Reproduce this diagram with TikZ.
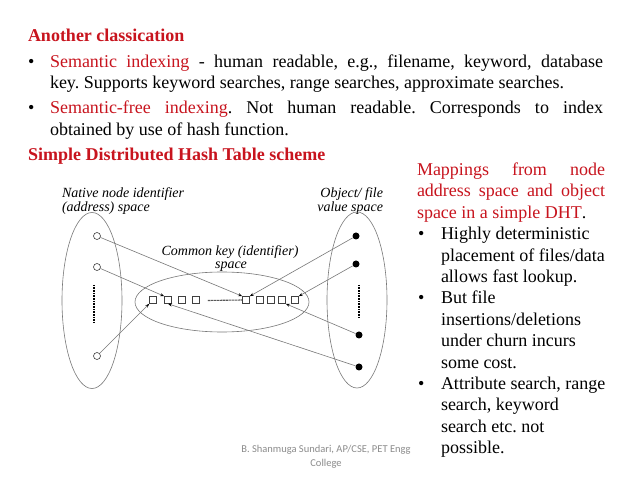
\documentclass[tikz,border=0pt]{standalone}
\usepackage{fontspec}
\setmainfont{Liberation Serif}
\newfontfamily\footfont{Carlito}
\usetikzlibrary{arrows.meta,shapes.geometric}
\definecolor{slidered}{RGB}{200,20,30}
\definecolor{footgray}{RGB}{140,140,140}
\definecolor{linegray}{RGB}{120,120,120}
\frenchspacing
\begin{document}
\begin{tikzpicture}[x=1pt,y=-1pt,
  body/.style={anchor=base west, inner sep=0pt, outer sep=0pt, font=\fontsize{18}{21}\selectfont},
  hd/.style={body, font=\fontsize{18}{21}\selectfont\bfseries, text=slidered},
  lbl/.style={inner sep=0pt, outer sep=0pt, font=\fontsize{14}{14}\selectfont\itshape},
  hollowdot/.style={circle, draw=black!75, line width=0.6pt, fill=white, minimum size=7pt, inner sep=0pt},
  soliddot/.style={circle, fill=black, minimum size=7pt, inner sep=0pt},
  keybox/.style={rectangle, draw=black!75, line width=0.6pt, minimum size=7pt, inner sep=0pt},
  spaceell/.style={ellipse, draw=linegray, line width=0.6pt, inner sep=0pt},
  mapline/.style={draw=linegray, line width=0.6pt, -{Stealth[length=4pt,width=3pt,color=black]}},
  dotcol/.style={line width=1.4pt, dash pattern=on 0.8pt off 0.8pt},
  foot/.style={inner sep=0pt, font=\footfont\fontsize{10.5}{12}\selectfont, text=footgray},
]
\useasboundingbox[fill=white] (0,0) rectangle (638,478);

% ---- top text ----
\node[hd] (t1) at (28,41.5) {Another classication};
\node[body] (bu1) at (28,67.5) {•};
\node[body] (l1) at (50,67.5) {\makebox[553pt][s]{\textcolor{slidered}{Semantic indexing} - human readable, e.g., filename, keyword, database}};
\node[body] (l2) at (50,88.5) {key. Supports keyword searches, range searches, approximate searches.};
\node[body] (bu2) at (28,113.5) {•};
\node[body] (l3) at (50,113.5) {\makebox[553pt][s]{\textcolor{slidered}{Semantic-free indexing}. Not human readable. Corresponds to index}};
\node[body] (l4) at (50,135.5) {obtained by use of hash function.};
\node[hd] (t2) at (28,160.5) {Simple Distributed Hash Table scheme};

% ---- right column ----
\node[body, text=slidered] (r0) at (417,175.5) {\makebox[188pt][s]{Mappings from node}};
\node[body, text=slidered] (r1) at (417,196.9) {\makebox[188pt][s]{address space and object}};
\node[body] (r2) at (417,218.3) {\textcolor{slidered}{space in a simple DHT}.};
\node[body] (rb1) at (418,239.7) {•};
\node[body] (r3) at (441,239.7) {Highly deterministic};
\node[body] (r4) at (441,261.1) {placement of files/data};
\node[body] (r5) at (441,282.5) {allows fast lookup.};
\node[body] (rb2) at (418,303.9) {•};
\node[body] (r6) at (441,303.9) {But file};
\node[body] (r7) at (441,325.3) {insertions/deletions};
\node[body] (r8) at (441,346.7) {under churn incurs};
\node[body] (r9) at (441,368.1) {some cost.};
\node[body] (rb3) at (418,389.5) {•};
\node[body] (r10) at (441,389.5) {Attribute search, range};
\node[body] (r11) at (441,410.9) {search, keyword};
\node[body] (r12) at (441,432.3) {search etc. not};
\node[body] (r13) at (441,453.7) {possible.};

% ---- footer ----
\node[foot, anchor=base] (f1) at (326,452.5) {B. Shanmuga Sundari, AP/CSE, PET Engg};
\node[foot, anchor=base] (f2) at (326,467) {College};

% ---- diagram ----
\node[lbl, anchor=base west] (la1) at (62,197.5) {Native node identifier};
\node[lbl, anchor=base west] (la2) at (62,211.5) {(address) space};
\node[lbl, anchor=base east] (ra1) at (383,197.5) {Object/ file};
\node[lbl, anchor=base east] (ra2) at (383,211.5) {value space};
\node[lbl, anchor=base] (ka1) at (230,255.5) {Common key (identifier)};
\node[lbl, anchor=base] (ka2) at (231,268.5) {space};

\node[spaceell, minimum width=60pt, minimum height=176pt] (lsp) at (92,300.5) {};
\node[spaceell, minimum width=60pt, minimum height=176pt] (rsp) at (357,300) {};
\node[spaceell, minimum width=174pt, minimum height=60pt] (ksp) at (222,302) {};

\node[hollowdot] (c1) at (97,236) {};
\node[hollowdot] (c2) at (97,267) {};
\node[hollowdot] (c3) at (97,356) {};
\node[soliddot] (o1) at (356,236) {};
\node[soliddot] (o2) at (356,264) {};
\node[soliddot] (o3) at (359,335) {};
\node[soliddot] (o4) at (359,367) {};

\coordinate (ld1) at (94,285);
\coordinate (ld2) at (94,322);
\coordinate (rd1) at (359,285);
\coordinate (rd2) at (359,318);
\draw[dotcol] (ld1) -- (ld2);
\draw[dotcol] (rd1) -- (rd2);

\node[keybox] (s1) at (153,300) {};
\node[keybox] (s2) at (168,300) {};
\node[keybox] (s3) at (182,300) {};
\node[keybox] (s4) at (196,300) {};
\node[keybox] (s5) at (246,300) {};
\node[keybox] (s6) at (260,300) {};
\node[keybox] (s7) at (271,300) {};
\node[keybox] (s8) at (282,300) {};
\node[keybox] (s9) at (295,300) {};
\draw[line width=1.1pt, dash pattern=on 0.8pt off 0.7pt] (s4.east) ++(8,0.5) coordinate (kd1) -- (s5.west) ++(-6,0.5) coordinate (kd2);

\draw[mapline] (c1) -- (s5.north west);
\draw[mapline] (c2) -- (s2.north west);
\draw[mapline] (c3) -- (s1.south west);
\draw[mapline] (o1) -- (s5.north east);
\draw[mapline] (o2) -- (s9.north east);
\draw[mapline] (o3) -- (s8.south east);
\draw[mapline] (o4) -- (s2.south);
\end{tikzpicture}
\end{document}
